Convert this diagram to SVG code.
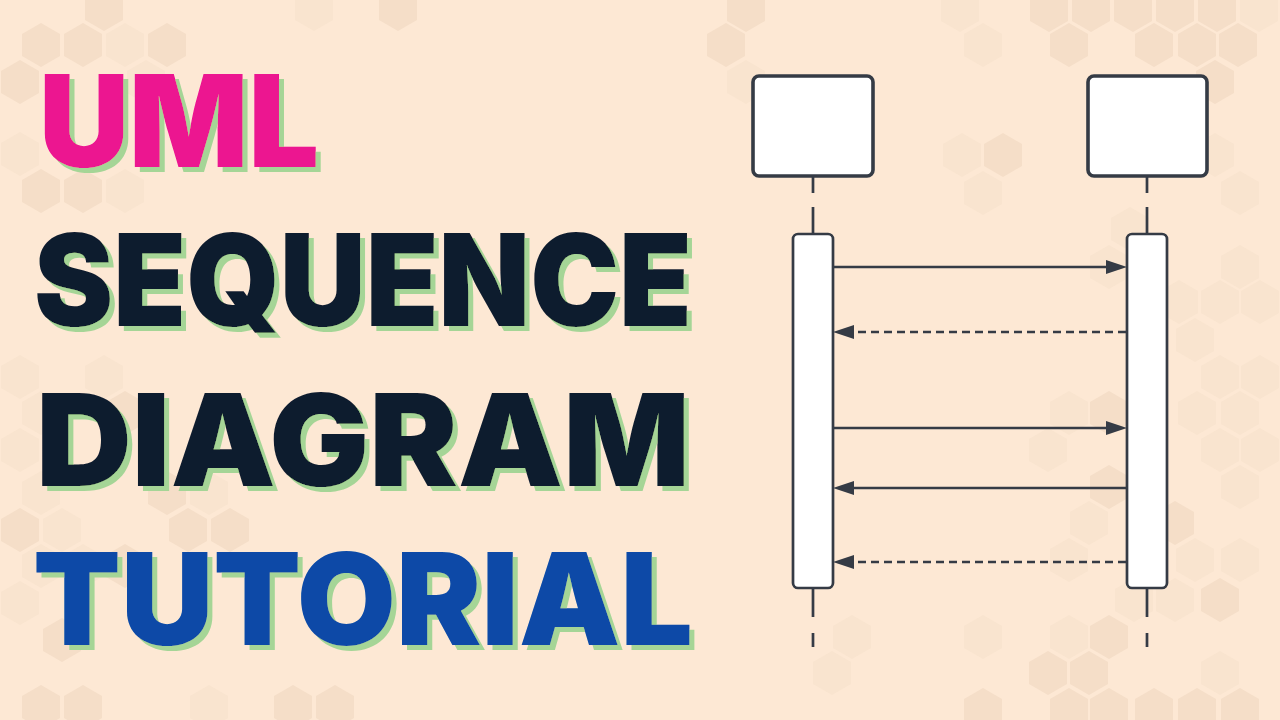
<svg xmlns="http://www.w3.org/2000/svg" width="1280" height="720" viewBox="0 0 1280 720">
<style>
.bg{fill:#FDE8D4}
.hx{fill:#F5DEC8}
.hl{fill:#F9E4CF}
.title{font-family:Inter,"Lato","Liberation Sans",sans-serif;font-weight:900;font-size:128px;filter:url(#shadow)}
.pink{fill:#EC1290}
.navy{fill:#0C1A2D}
.blue{fill:#0849A7}
.box{fill:#FFFFFF;stroke:#353B45;stroke-width:3.6}
.act{fill:#FFFFFF;stroke:#353B45;stroke-width:2.7}
.life{stroke:#353B45;stroke-width:2.7;fill:none}
.msg{stroke:#353B45;stroke-width:2.7;fill:none}
.ret{stroke-dasharray:8 5}
</style>
<defs>
<path id="hex" d="M0,-22 L19,-11 L19,11 L0,22 L-19,11 L-19,-11 Z"/>
<filter id="shadow" x="-5%" y="-20%" width="115%" height="150%">
<feFlood flood-color="#A5D596" result="g"/>
<feComposite in="g" in2="SourceAlpha" operator="in" result="gs"/>
<feOffset in="gs" dx="5" dy="5" result="off"/>
<feMerge><feMergeNode in="off"/><feMergeNode in="SourceGraphic"/></feMerge>
</filter>
<marker id="ah" markerUnits="userSpaceOnUse" markerWidth="24" markerHeight="16" refX="10" refY="7" orient="auto">
<path d="M0,0 L21,7 L0,14 Z" fill="#353B45"/>
</marker>
</defs>
<rect class="bg" x="0" y="0" width="1280" height="720"/>
<g id="hexagons">
<use href="#hex" class="hx" x="104" y="9"/><use href="#hex" class="hl" x="314" y="9"/><use href="#hex" class="hx" x="398" y="9"/>
<use href="#hex" class="hx" x="41" y="45"/><use href="#hex" class="hx" x="83" y="45"/><use href="#hex" class="hl" x="125" y="45"/><use href="#hex" class="hx" x="167" y="45"/>
<use href="#hex" class="hx" x="20" y="82"/><use href="#hex" class="hl" x="146" y="82"/>
<use href="#hex" class="hl" x="20" y="154"/>
<use href="#hex" class="hx" x="41" y="191"/><use href="#hex" class="hx" x="83" y="191"/><use href="#hex" class="hl" x="125" y="191"/>
<use href="#hex" class="hl" x="20" y="377"/><use href="#hex" class="hl" x="104" y="377"/>
<use href="#hex" class="hl" x="41" y="413"/><use href="#hex" class="hx" x="125" y="413"/>
<use href="#hex" class="hl" x="20" y="450"/>
<use href="#hex" class="hl" x="41" y="493"/><use href="#hex" class="hx" x="167" y="493"/><use href="#hex" class="hl" x="209" y="493"/>
<use href="#hex" class="hx" x="20" y="530"/><use href="#hex" class="hl" x="62" y="530"/><use href="#hex" class="hx" x="188" y="530"/><use href="#hex" class="hx" x="230" y="530"/>
<use href="#hex" class="hl" x="41" y="566"/><use href="#hex" class="hl" x="83" y="566"/><use href="#hex" class="hx" x="125" y="566"/>
<use href="#hex" class="hl" x="20" y="603"/><use href="#hex" class="hx" x="62" y="640"/>
<use href="#hex" class="hx" x="41" y="707"/><use href="#hex" class="hx" x="83" y="707"/><use href="#hex" class="hl" x="209" y="707"/><use href="#hex" class="hx" x="293" y="707"/><use href="#hex" class="hx" x="335" y="707"/>
<use href="#hex" class="hx" x="746" y="10"/><use href="#hex" class="hl" x="960" y="10"/><use href="#hex" class="hx" x="1049" y="10"/><use href="#hex" class="hx" x="1091" y="10"/><use href="#hex" class="hx" x="1133" y="10"/><use href="#hex" class="hx" x="1175" y="10"/><use href="#hex" class="hx" x="1217" y="10"/><use href="#hex" class="hl" x="1259" y="10"/>
<use href="#hex" class="hx" x="726" y="45"/><use href="#hex" class="hl" x="983" y="45"/><use href="#hex" class="hx" x="1069" y="45"/><use href="#hex" class="hx" x="1154" y="45"/><use href="#hex" class="hx" x="1197" y="45"/><use href="#hex" class="hx" x="1238" y="45"/>
<use href="#hex" class="hl" x="746" y="82"/><use href="#hex" class="hx" x="1215" y="82"/>
<use href="#hex" class="hl" x="962" y="155"/><use href="#hex" class="hx" x="1003" y="155"/><use href="#hex" class="hl" x="1215" y="155"/>
<use href="#hex" class="hl" x="983" y="193"/><use href="#hex" class="hl" x="1240" y="193"/>
<use href="#hex" class="hl" x="1130" y="229"/>
<use href="#hex" class="hl" x="1109" y="267"/><use href="#hex" class="hl" x="1240" y="267"/>
<use href="#hex" class="hl" x="1179" y="302"/><use href="#hex" class="hl" x="1220" y="302"/><use href="#hex" class="hl" x="1260" y="302"/>
<use href="#hex" class="hl" x="1195" y="340"/>
<use href="#hex" class="hl" x="1220" y="377"/><use href="#hex" class="hl" x="1260" y="377"/>
<use href="#hex" class="hl" x="1069" y="413"/><use href="#hex" class="hx" x="1109" y="413"/><use href="#hex" class="hl" x="1197" y="413"/><use href="#hex" class="hl" x="1240" y="413"/>
<use href="#hex" class="hl" x="1048" y="450"/><use href="#hex" class="hl" x="1220" y="450"/><use href="#hex" class="hl" x="1260" y="450"/>
<use href="#hex" class="hx" x="1109" y="487"/><use href="#hex" class="hl" x="1240" y="487"/>
<use href="#hex" class="hl" x="1089" y="523"/><use href="#hex" class="hx" x="1175" y="523"/>
<use href="#hex" class="hl" x="1069" y="560"/><use href="#hex" class="hl" x="1195" y="560"/><use href="#hex" class="hl" x="1240" y="560"/>
<use href="#hex" class="hl" x="1134" y="600"/><use href="#hex" class="hl" x="1175" y="600"/><use href="#hex" class="hx" x="1220" y="600"/>
<use href="#hex" class="hl" x="852" y="637"/><use href="#hex" class="hl" x="983" y="637"/><use href="#hex" class="hl" x="1069" y="637"/><use href="#hex" class="hx" x="1109" y="637"/>
<use href="#hex" class="hl" x="832" y="673"/><use href="#hex" class="hx" x="1048" y="673"/><use href="#hex" class="hx" x="1089" y="673"/><use href="#hex" class="hl" x="1220" y="673"/>
<use href="#hex" class="hx" x="983" y="710"/><use href="#hex" class="hx" x="1069" y="710"/><use href="#hex" class="hx" x="1109" y="710"/><use href="#hex" class="hx" x="1154" y="710"/><use href="#hex" class="hx" x="1197" y="710"/><use href="#hex" class="hx" x="1240" y="710"/>
</g>
<g id="title">
<text class="title pink" x="39" y="167" textLength="280" lengthAdjust="spacingAndGlyphs">UML</text>
<text class="title navy" x="34" y="326" textLength="658" lengthAdjust="spacingAndGlyphs">SEQUENCE</text>
<text class="title navy" x="36" y="486" textLength="654" lengthAdjust="spacingAndGlyphs">DIAGRAM</text>
<text class="title blue" x="33" y="645" textLength="660" lengthAdjust="spacingAndGlyphs">TUTORIAL</text>
</g>
<g id="lifelines">
<path class="life" d="M813,176 V193 M813,207 V233 M813,588 V617 M813,633 V647"/>
<path class="life" d="M1147,176 V193 M1147,207 V233 M1147,588 V617 M1147,633 V647"/>
</g>
<g id="participant-a"><rect class="box" x="753" y="76" width="120" height="100" rx="6"/></g>
<g id="participant-b"><rect class="box" x="1088" y="76" width="119" height="100" rx="6"/></g>
<g id="activation-a"><rect class="act" x="793" y="234" width="40" height="354" rx="5"/></g>
<g id="activation-b"><rect class="act" x="1127" y="234" width="40" height="354" rx="5"/></g>
<g id="connectors">
<path class="msg" d="M834,267 H1116" marker-end="url(#ah)"/>
<path class="msg ret" d="M1126,332 H844" marker-end="url(#ah)"/>
<path class="msg" d="M834,428 H1116" marker-end="url(#ah)"/>
<path class="msg" d="M1126,488 H844" marker-end="url(#ah)"/>
<path class="msg ret" d="M1126,562 H844" marker-end="url(#ah)"/>
</g>
</svg>
